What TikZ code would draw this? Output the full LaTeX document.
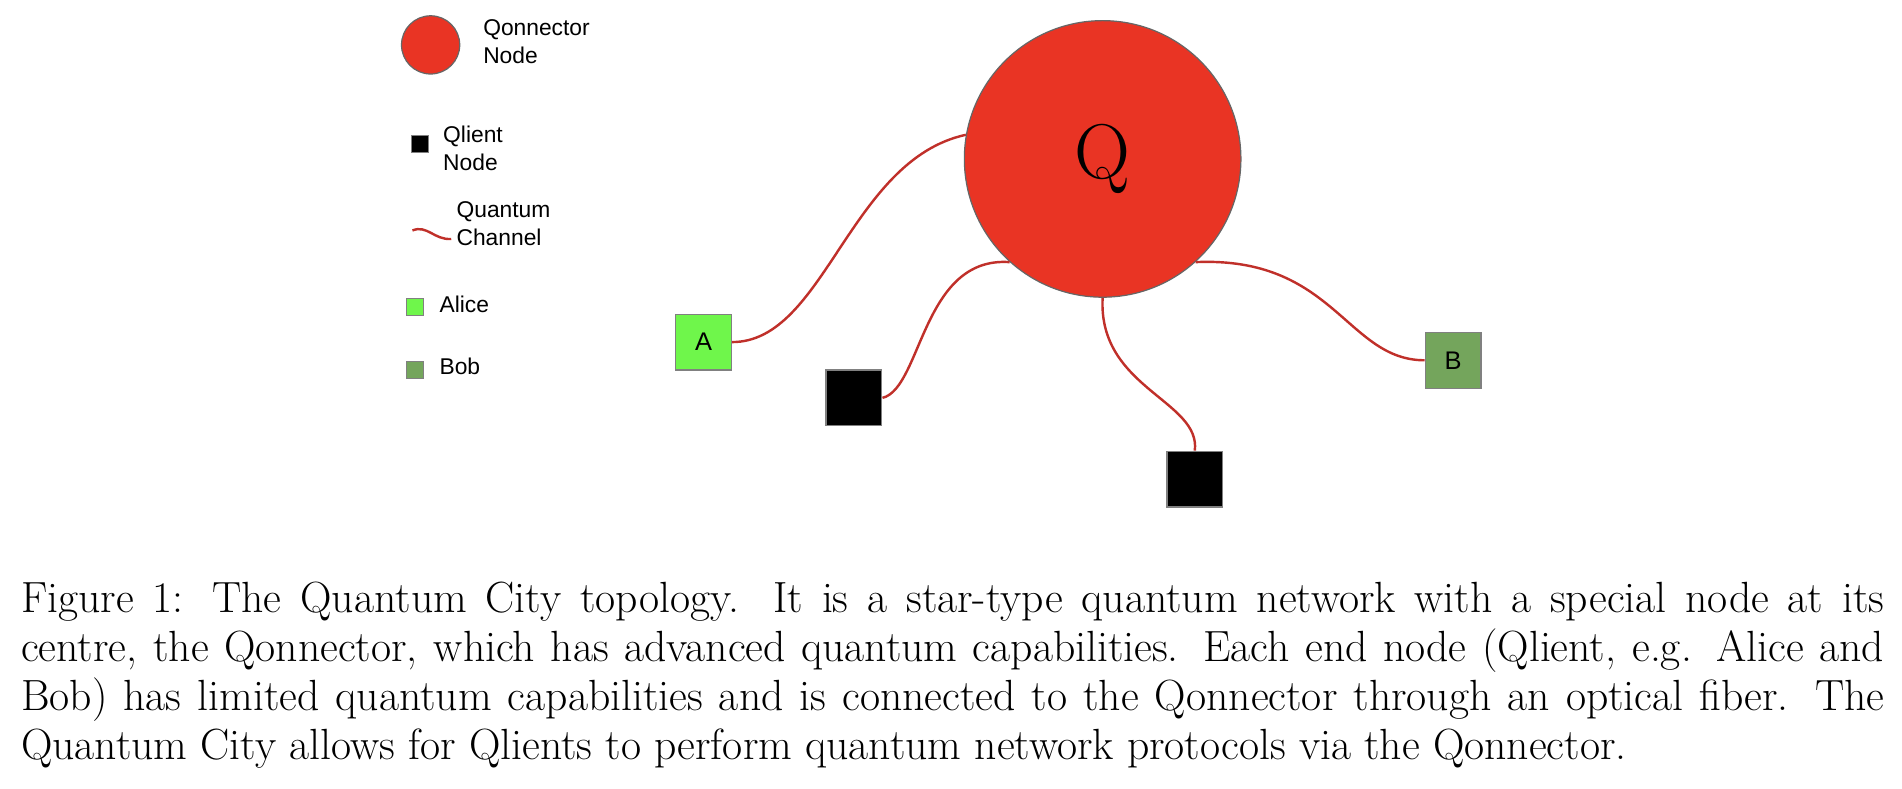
\documentclass[tikz,border=0pt]{standalone}
\usepackage{fontspec}
\newfontfamily\arial{Liberation Sans}
\definecolor{qred}{HTML}{E93424}
\definecolor{alicegreen}{HTML}{6FF64B}
\definecolor{bobgreen}{HTML}{74A55C}
\definecolor{chan}{HTML}{C0302A}
\begin{document}
\begin{tikzpicture}[x=0.5pt,y=-0.5pt,
  qcircle/.style={circle,fill=qred,draw=black!60,line width=0.5pt,inner sep=0pt},
  sq/.style={rectangle,draw=black!50,line width=0.5pt,inner sep=0pt,minimum size=#1},
  lbl/.style={font=\arial\fontsize{9.4}{11.5}\selectfont,align=left,anchor=west,inner sep=0pt},
  chanl/.style={draw=chan,line width=1pt}]
\useasboundingbox (0,0) rectangle (1568,650);
% legend
\node[qcircle,minimum size=48*0.5pt] (lq) at (355,37) {};
\node[lbl] (lqt) at (398,34) {Qonnector\\Node};
\node[sq=7pt,fill=black] (lc) at (346,119) {};
\node[lbl] (lct) at (365,122) {Qlient\\Node};
\coordinate (lch1) at (340,190);
\coordinate (lch2) at (372,197);
\draw[chanl] (lch1) .. controls (352,185) and (358,198) .. (lch2);
\node[lbl] (lcht) at (376,184) {Quantum\\Channel};
\node[sq=7pt,fill=alicegreen] (la) at (342,253) {};
\node[lbl] (lat) at (362,251) {Alice};
\node[sq=7pt,fill=bobgreen] (lb) at (342,305) {};
\node[lbl] (lbt) at (362,302) {Bob};
% network
\node[qcircle,minimum size=228*0.5pt] (Q) at (909,131) {\fontsize{32}{32}\selectfont Q};
\node[sq=23pt,fill=alicegreen,font=\arial\fontsize{10.5}{10.5}\selectfont] (A) at (580,282) {A};
\node[sq=23pt,fill=black] (C1) at (704,328) {};
\node[sq=23pt,fill=black] (C2) at (985,395) {};
\node[sq=23pt,fill=bobgreen,font=\arial\fontsize{10.5}{10.5}\selectfont] (B) at (1198,297) {B};
\draw[chanl] (A.east) .. controls (680,282) and (700,132) .. (Q.170);
\draw[chanl] (C1.east) .. controls (760,320) and (760,211) .. (Q.228);
\draw[chanl] (Q.270) .. controls (905,320) and (990,330) .. (C2.north);
\draw[chanl] (Q.312) .. controls (1100,211) and (1110,297) .. (B.west);
% caption
\node[anchor=north west,inner sep=0pt,text width=768pt,align=justify,
  font=\fontsize{18}{20.3}\selectfont] (cap) at (17,479) {Figure 1: The Quantum City topology. It is a star-type quantum network with a special node at its\linebreak
centre, the Qonnector, which has advanced quantum capabilities. Each end node (Qlient, e.g. Alice and\linebreak
Bob) has limited quantum capabilities and is connected to the Qonnector through an optical fiber. The\linebreak
Quantum City allows for Qlients to perform quantum network protocols via the Qonnector.};
\end{tikzpicture}
\end{document}
